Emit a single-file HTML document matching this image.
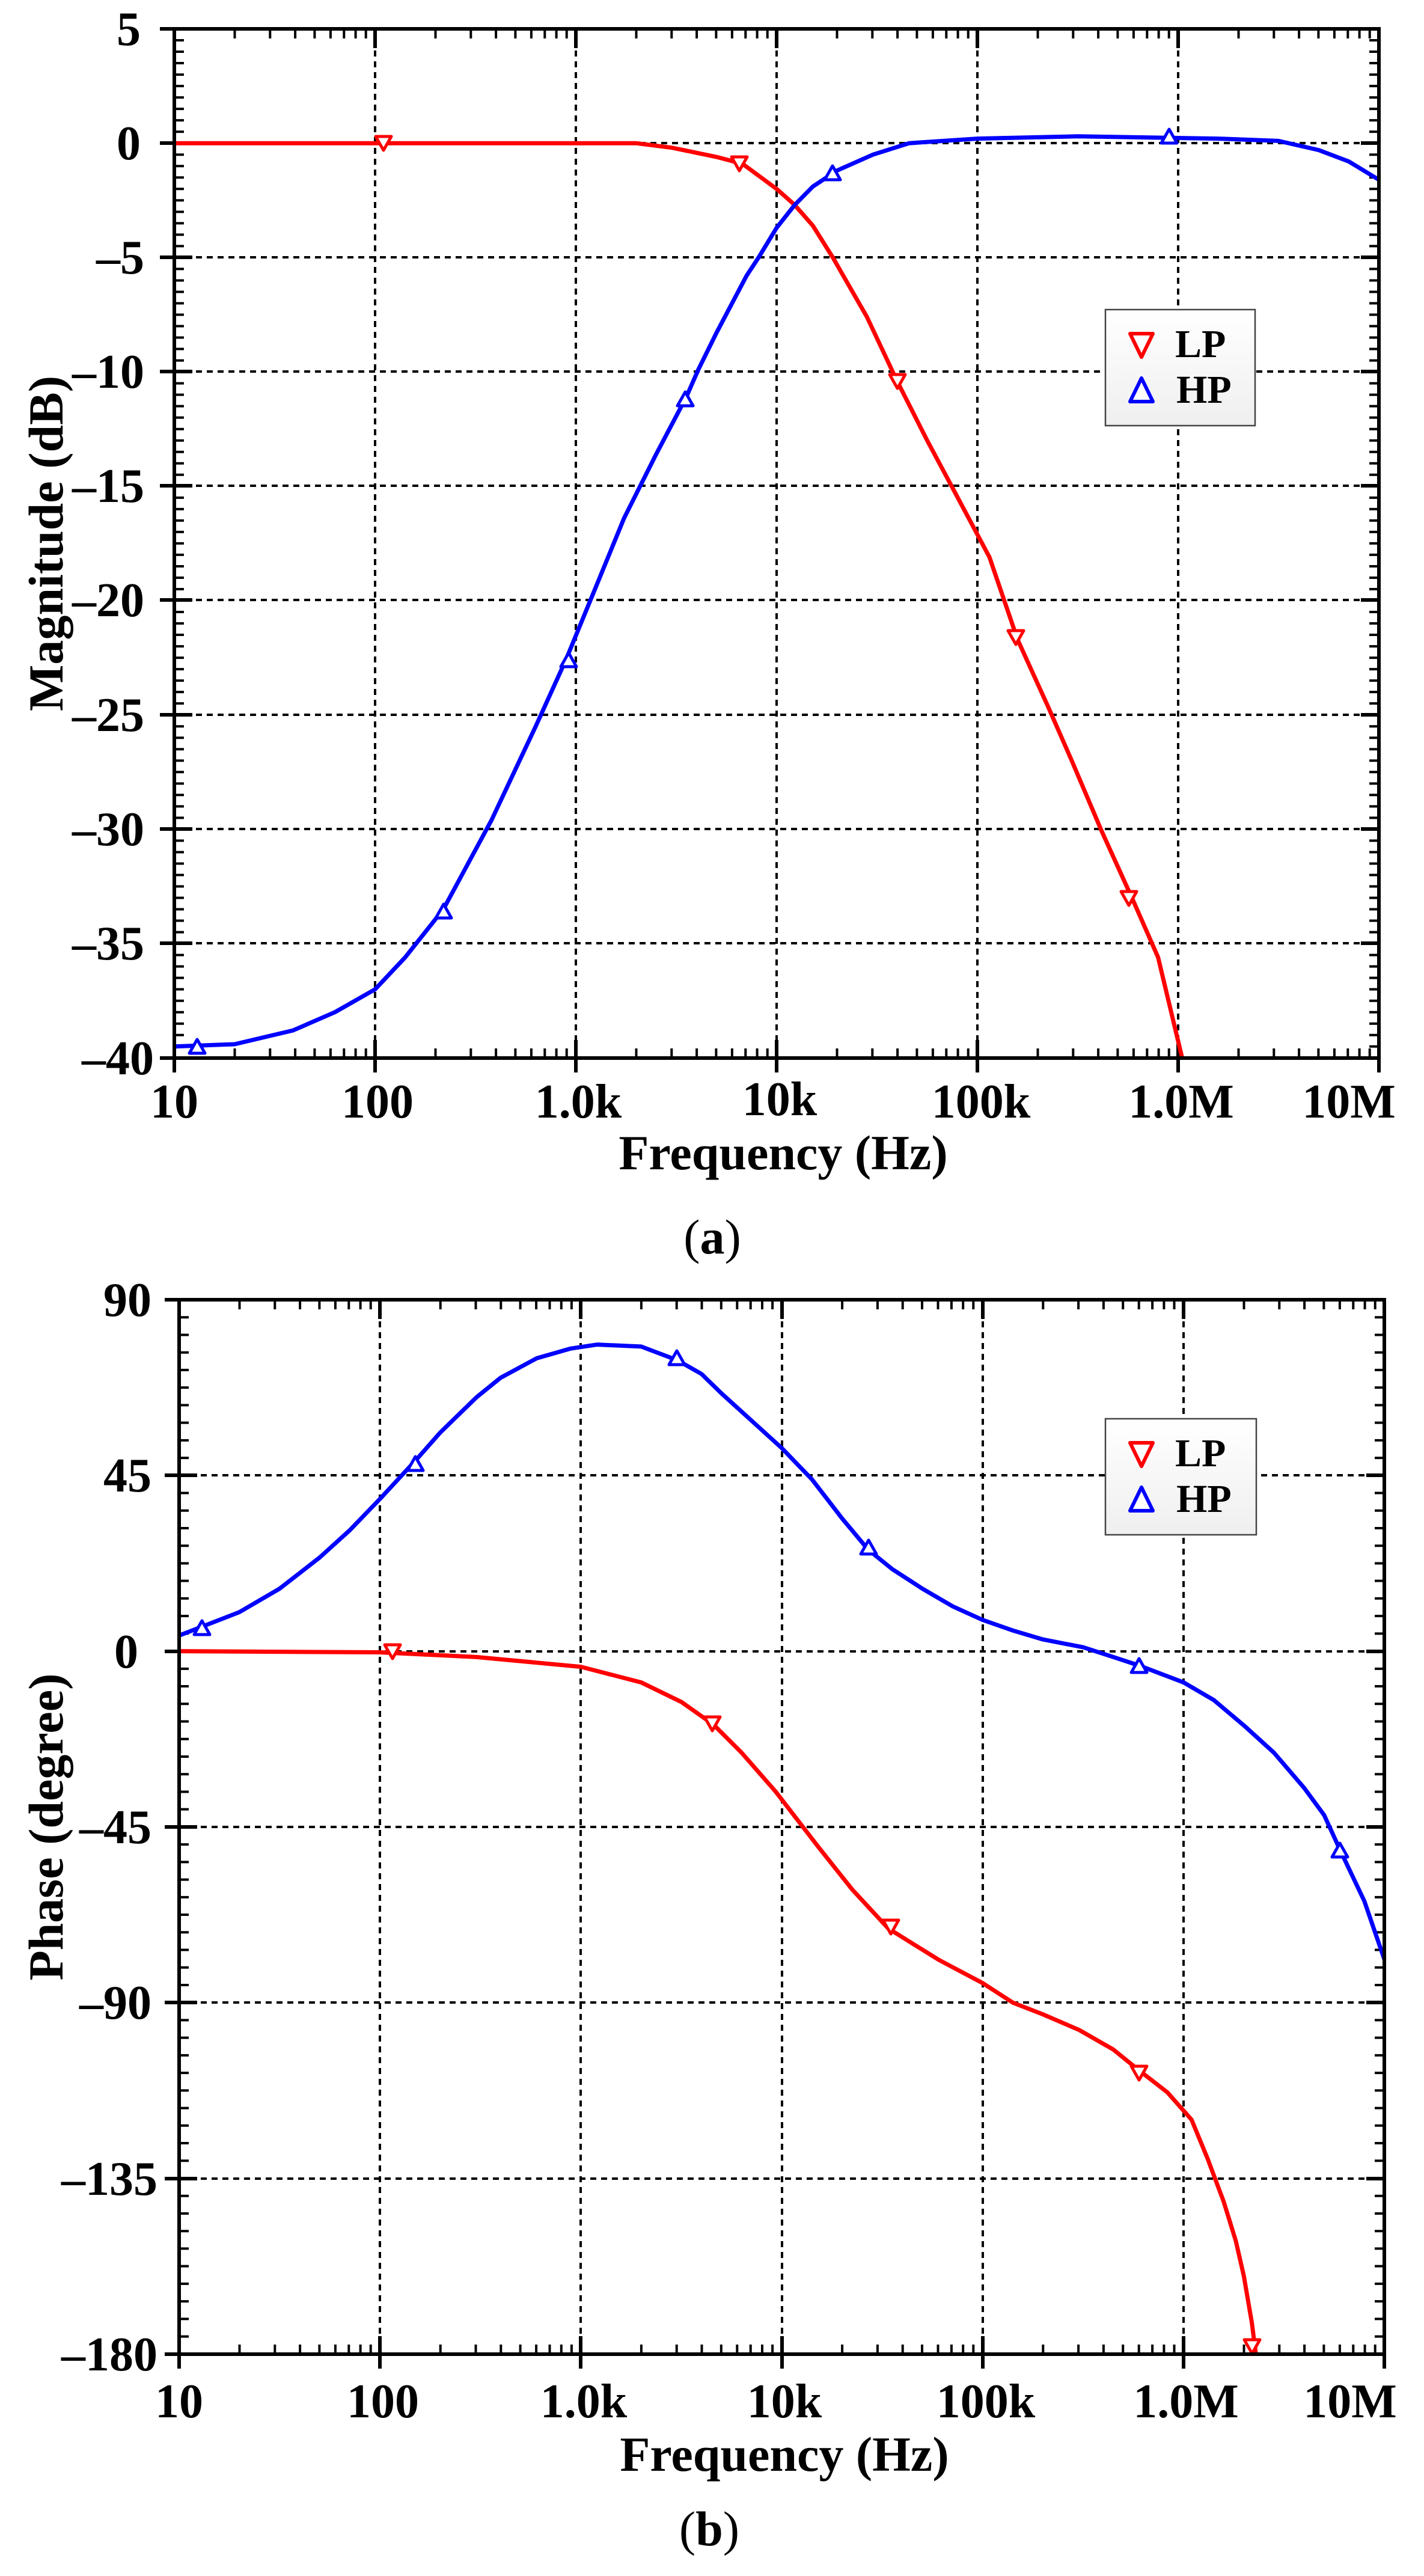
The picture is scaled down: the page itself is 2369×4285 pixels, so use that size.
<!DOCTYPE html>
<html><head><meta charset="utf-8"><style>
html,body{margin:0;padding:0;background:#fff;}
svg{display:block;font-family:"Liberation Serif",serif;font-weight:bold;}
</style></head><body>
<svg width="2369" height="4285" viewBox="0 0 2369 4285" xmlns="http://www.w3.org/2000/svg">
<defs>
<linearGradient id="lg" x1="0" y1="0" x2="0" y2="1"><stop offset="0" stop-color="#ffffff"/><stop offset="1" stop-color="#efefef"/></linearGradient>
<g id="decA"><path d="M100.5 0v16M159.3 0v16M201.1 0v16M233.4 0v16M259.9 0v16M282.3 0v16M301.6 0v16M318.7 0v16" stroke="#000" stroke-width="4"/></g>
</defs>

<!-- ============ PLOT A ============ -->
<g>
<g stroke="#000" stroke-width="4" stroke-dasharray="10 8" fill="none">
<path d="M624 48V1760M958 48V1760M1292 48V1760M1626 48V1760M1960 48V1760"/>
<path d="M290 238H2294M290 428H2294M290 618H2294M290 808H2294M290 998H2294M290 1189H2294M290 1379H2294M290 1569H2294"/>
</g>
<line x1="298" y1="48" x2="298" y2="1760" stroke="#000" stroke-width="16" stroke-dasharray="4 15.02" stroke-dashoffset="2"/>
<line x1="2286" y1="48" x2="2286" y2="1760" stroke="#000" stroke-width="16" stroke-dasharray="4 15.02" stroke-dashoffset="2"/>
<g transform="translate(290,48)"><use href="#decA"/><use href="#decA" x="334"/><use href="#decA" x="668"/><use href="#decA" x="1002"/><use href="#decA" x="1336"/><use href="#decA" x="1670"/></g>
<g transform="translate(290,1760) scale(1,-1)"><use href="#decA"/><use href="#decA" x="334"/><use href="#decA" x="668"/><use href="#decA" x="1002"/><use href="#decA" x="1336"/><use href="#decA" x="1670"/></g>
<path d="M266 48H320M266 238H320M266 428H320M266 618H320M266 808H320M266 998H320M266 1189H320M266 1379H320M266 1569H320M266 1760H320M2264 238H2294M2264 428H2294M2264 618H2294M2264 808H2294M2264 998H2294M2264 1189H2294M2264 1379H2294M2264 1569H2294
M290 1730V1784M624 1730V1784M958 1730V1784M1292 1730V1784M1626 1730V1784M1960 1730V1784M2294 1730V1784M624 48V80M958 48V80M1292 48V80M1626 48V80M1960 48V80" stroke="#000" stroke-width="6"/>
<g transform="matrix(334 0 0 -38.04 -44 238.2)" fill="none" stroke-linejoin="round">
<polyline vector-effect="non-scaling-stroke" stroke="#ff0000" stroke-width="7" points="1,0 3.3,0 3.48,-0.2 3.7,-0.6 3.83,-0.9 4,-2 4.09,-2.7 4.18,-3.6 4.28,-5 4.45,-7.6 4.6,-10.4 4.75,-13 4.89,-15.3 5.06,-18.1 5.2,-21.7 5.35,-24.6 5.47,-27 5.62,-30.1 5.78,-33.2 5.9,-35.6 6.02,-40"/>
<polyline vector-effect="non-scaling-stroke" stroke="#0000ff" stroke-width="7" points="1,-39.5 1.3,-39.4 1.59,-38.8 1.8,-38 2,-37 2.15,-35.6 2.34,-33.5 2.58,-29.6 2.8,-25.5 2.95,-22.6 3.1,-19.4 3.24,-16.4 3.4,-13.6 3.55,-11.1 3.61,-9.9 3.7,-8.3 3.85,-5.8 3.91,-5 4,-3.7 4.09,-2.7 4.18,-1.9 4.3,-1.2 4.48,-0.5 4.66,0 5,0.2 5.5,0.3 6.2,0.2 6.5,0.1 6.7,-0.3 6.85,-0.8 7,-1.6"/>
</g>
<g fill="#fff" stroke="#ff0000" stroke-width="5" stroke-linejoin="round">
<polygon points="625,227 651,227 638,250"/>
<polygon points="1217,261 1243,261 1230,284"/>
<polygon points="1480,623 1506,623 1493,646"/>
<polygon points="1677,1049 1703,1049 1690,1072"/>
<polygon points="1865,1483 1891,1483 1878,1506"/>
</g>
<g fill="#fff" stroke="#0000ff" stroke-width="5" stroke-linejoin="round">
<polygon points="315,1752 341,1752 328,1729"/>
<polygon points="725,1527 751,1527 738,1504"/>
<polygon points="933,1109 959,1109 946,1086"/>
<polygon points="1127,675 1153,675 1140,652"/>
<polygon points="1372,299 1398,299 1385,276"/>
<polygon points="1932,238 1958,238 1945,215"/>
</g>
<rect x="290" y="48" width="2004" height="1712" fill="none" stroke="#000" stroke-width="6"/>
<rect x="1839" y="515" width="249" height="193" fill="url(#lg)" stroke="#444" stroke-width="2.5"/>
<polygon points="1880,555 1918,555 1899,594" fill="#fff" stroke="#ff0000" stroke-width="6" stroke-linejoin="round"/>
<polygon points="1880,668 1918,668 1899,629" fill="#fff" stroke="#0000ff" stroke-width="6" stroke-linejoin="round"/>
<text x="1955" y="594" font-size="66">LP</text>
<text x="1957" y="670" font-size="66">HP</text>
<g font-size="80" text-anchor="end">
<text x="234" y="75">5</text><text x="234" y="265">0</text><text x="240" y="455">–5</text><text x="240" y="645">–10</text><text x="240" y="835">–15</text><text x="240" y="1025">–20</text><text x="240" y="1216">–25</text><text x="240" y="1406">–30</text><text x="240" y="1596">–35</text><text x="256" y="1787">–40</text>
</g>
<g font-size="80" text-anchor="middle">
<text x="290" y="1859">10</text><text x="628" y="1859">100</text><text x="962" y="1859">1.0k</text><text x="1297" y="1855">10k</text><text x="1632" y="1859">100k</text><text x="1965" y="1859">1.0M</text><text x="2244" y="1859">10M</text>
</g>
<text x="1303" y="1945" font-size="82" text-anchor="middle">Frequency (Hz)</text>
<text transform="translate(104,904) rotate(-90)" font-size="82" text-anchor="middle">Magnitude (dB)</text>
<text x="1185" y="2085" font-size="82" text-anchor="middle" font-weight="normal">(<tspan font-weight="bold">a</tspan>)</text>
</g>

<!-- ============ PLOT B ============ -->
<g>
<g stroke="#000" stroke-width="4" stroke-dasharray="10 8" fill="none">
<path d="M632 2162V3916M966 2162V3916M1301 2162V3916M1635 2162V3916M1969 2162V3916"/>
<path d="M298 2454H2303M298 2747H2303M298 3039H2303M298 3331H2303M298 3624H2303"/>
</g>
<line x1="306" y1="2162" x2="306" y2="3916" stroke="#000" stroke-width="16" stroke-dasharray="4 25.23" stroke-dashoffset="2"/>
<line x1="2295" y1="2162" x2="2295" y2="3916" stroke="#000" stroke-width="16" stroke-dasharray="4 25.23" stroke-dashoffset="2"/>
<g transform="translate(298,2162)"><use href="#decA"/><use href="#decA" x="334.2"/><use href="#decA" x="668.4"/><use href="#decA" x="1002.6"/><use href="#decA" x="1336.8"/><use href="#decA" x="1671"/></g>
<g transform="translate(298,3916) scale(1,-1)"><use href="#decA"/><use href="#decA" x="334.2"/><use href="#decA" x="668.4"/><use href="#decA" x="1002.6"/><use href="#decA" x="1336.8"/><use href="#decA" x="1671"/></g>
<path d="M274 2162H328M274 2454H328M274 2747H328M274 3039H328M274 3331H328M274 3624H328M274 3916H328M2273 2454H2303M2273 2747H2303M2273 3039H2303M2273 3331H2303M2273 3624H2303
M298 3886V3940M632 3886V3940M966 3886V3940M1301 3886V3940M1635 3886V3940M1969 3886V3940M2303 3886V3940M632 2162V2194M966 2162V2194M1301 2162V2194M1635 2162V2194M1969 2162V2194" stroke="#000" stroke-width="6"/>
<g transform="matrix(334.2 0 0 -6.496 -36.2 2746.6)" fill="none" stroke-linejoin="round">
<polyline vector-effect="non-scaling-stroke" stroke="#ff0000" stroke-width="7" points="1,0 2,-0.3 2.48,-1.5 3,-4 3.3,-8 3.5,-13 3.66,-18.8 3.8,-26 3.97,-36 4.18,-50 4.35,-61 4.53,-71 4.78,-79 5,-85 5.15,-90 5.3,-93 5.48,-97 5.65,-102 5.77,-107 5.92,-113 6.04,-120 6.12,-130 6.2,-141 6.26,-151 6.3,-160 6.34,-172 6.36,-180"/>
<polyline vector-effect="non-scaling-stroke" stroke="#0000ff" stroke-width="7" points="1,4 1.3,10 1.5,16 1.7,24 1.85,31 2,39 2.18,49 2.3,56 2.48,65 2.6,70 2.78,75 2.95,77.5 3.08,78.5 3.3,78 3.48,74.5 3.6,71 3.7,66 3.85,59 4,52 4.15,44 4.3,34 4.43,26 4.55,21 4.7,16 4.85,11.5 5,8 5.15,5.3 5.3,3 5.5,1 5.65,-1.5 5.78,-3.7 6,-8 6.15,-12.5 6.3,-19 6.45,-26 6.6,-35 6.7,-42 6.78,-51 6.9,-64 7,-79"/>
</g>
<g fill="#fff" stroke="#ff0000" stroke-width="5" stroke-linejoin="round">
<polygon points="640,2736 666,2736 653,2759"/>
<polygon points="1172,2856 1198,2856 1185,2879"/>
<polygon points="1469,3194 1495,3194 1482,3217"/>
<polygon points="1882,3437 1908,3437 1895,3460"/>
<polygon points="2070,3892 2096,3892 2083,3915"/>
</g>
<g fill="#fff" stroke="#0000ff" stroke-width="5" stroke-linejoin="round">
<polygon points="323,2719 349,2719 336,2696"/>
<polygon points="678,2446 704,2446 691,2423"/>
<polygon points="1113,2270 1139,2270 1126,2247"/>
<polygon points="1432,2585 1458,2585 1445,2562"/>
<polygon points="1882,2782 1908,2782 1895,2759"/>
<polygon points="2216,3089 2242,3089 2229,3066"/>
</g>
<rect x="298" y="2162" width="2005" height="1754" fill="none" stroke="#000" stroke-width="6"/>
<rect x="1839" y="2360" width="251" height="193" fill="url(#lg)" stroke="#444" stroke-width="2.5"/>
<polygon points="1880,2400 1918,2400 1899,2439" fill="#fff" stroke="#ff0000" stroke-width="6" stroke-linejoin="round"/>
<polygon points="1880,2513 1918,2513 1899,2474" fill="#fff" stroke="#0000ff" stroke-width="6" stroke-linejoin="round"/>
<text x="1955" y="2439" font-size="66">LP</text>
<text x="1957" y="2515" font-size="66">HP</text>
<g font-size="80" text-anchor="end">
<text x="252" y="2189">90</text><text x="252" y="2481">45</text><text x="230" y="2774">0</text><text x="252" y="3066">–45</text><text x="252" y="3358">–90</text><text x="262" y="3651">–135</text><text x="262" y="3943">–180</text>
</g>
<g font-size="80" text-anchor="middle">
<text x="298" y="4021">10</text><text x="637" y="4021">100</text><text x="971" y="4021">1.0k</text><text x="1305" y="4021">10k</text><text x="1640" y="4021">100k</text><text x="1973" y="4021">1.0M</text><text x="2246" y="4021">10M</text>
</g>
<text x="1305" y="4110" font-size="82" text-anchor="middle">Frequency (Hz)</text>
<text transform="translate(104,3039) rotate(-90)" font-size="82" text-anchor="middle">Phase (degree)</text>
<text x="1180" y="4234" font-size="82" text-anchor="middle" font-weight="normal">(<tspan font-weight="bold">b</tspan>)</text>
</g>
</svg>
</body></html>
